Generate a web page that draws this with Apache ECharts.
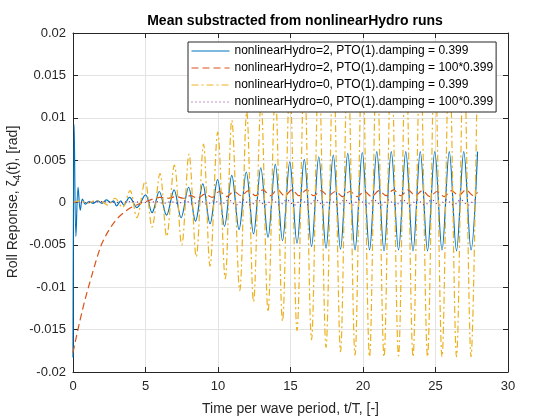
<!DOCTYPE html>
<html>
<head>
<meta charset="utf-8">
<script src="https://cdn.jsdelivr.net/npm/echarts/dist/echarts.min.js"></script>
<style>
  html, body { margin: 0; padding: 0; background: #fff; }
  #chart { width: 560px; height: 420px; }
</style>
</head>
<body>
<div id="chart"></div>
<script>
// ---- data ----
var xTicks = ['0', '5', '10', '15', '20', '25', '30'];
var yTicks = ['-0.02', '-0.015', '-0.01', '-0.005', '0', '0.005', '0.01', '0.015', '0.02'];

var seriesNames = [
  'nonlinearHydro=2, PTO(1).damping = 0.399',
  'nonlinearHydro=2, PTO(1).damping = 100*0.399',
  'nonlinearHydro=0, PTO(1).damping = 0.399',
  'nonlinearHydro=0, PTO(1).damping = 100*0.399'
];

// [t/T, roll]
var hydro2Low = [
  [0, -0.0183], [0.08, 0.0092], [0.2, -0.004], [0.35, 0.0018], [0.5, -0.0009], [0.65, 0.0004], [0.85, -0.0002],
  [1.1, 0.0001], [1.4, -0.0001], [1.7, 0.0002], [2.0, -0.0001], [2.3, 0.0003], [2.6, 0.0], [2.8, 0.0002],
  [3.0, -0.0004], [3.3, 0.0002], [3.5, -0.0003], [3.9, 0.0006], [4.4, -0.0006], [5.0, 0.0009],
  [5.45, -0.0012], [5.95, 0.0013], [6.45, -0.0015], [6.97, 0.0015], [7.45, -0.0018], [7.97, 0.0018],
  [8.45, -0.0022], [8.95, 0.0022], [9.45, -0.0025], [9.97, 0.0027], [10.45, -0.0028], [10.95, 0.0032],
  [11.45, -0.0032], [11.95, 0.0036], [12.45, -0.0037], [12.95, 0.0041], [13.45, -0.0041], [13.95, 0.0045],
  [14.45, -0.0045], [14.95, 0.0048], [15.45, -0.0048], [15.95, 0.0051], [16.45, -0.0052], [16.95, 0.0054],
  [17.45, -0.0054], [17.95, 0.0056], [18.45, -0.0055], [18.95, 0.0058], [19.45, -0.0056], [19.95, 0.0059],
  [20.45, -0.0056], [20.95, 0.006], [21.45, -0.0057], [21.95, 0.006], [22.45, -0.0056], [22.95, 0.006],
  [23.45, -0.0057], [23.95, 0.006], [24.45, -0.0057], [24.95, 0.006], [25.45, -0.0056], [25.95, 0.006],
  [26.45, -0.0057], [26.95, 0.006], [27.45, -0.0056], [27.9, 0.006]
];

var hydro2High = [
  [0, -0.0177], [0.25, -0.0157], [0.5, -0.0138], [0.75, -0.012], [1.0, -0.0104], [1.25, -0.0089],
  [1.5, -0.0074], [1.75, -0.006], [2.0, -0.0048], [2.5, -0.0032], [3.0, -0.002], [3.5, -0.0012],
  [4.0, -0.0006], [4.5, -0.0002], [5.0, 0.0001], [5.5, 0.0004], [6.0, 0.0006], [6.6, 0.0005],
  [7.1, 0.0007], [7.6, 0.0005], [8.1, 0.0008], [8.6, 0.0005], [9.1, 0.001], [9.6, 0.0006],
  [10.1, 0.0013], [10.6, 0.0007], [11.1, 0.0013], [11.6, 0.0008], [12.1, 0.0014], [12.6, 0.0008],
  [13.1, 0.0015], [13.6, 0.0008], [14.1, 0.0015], [14.6, 0.0008], [15.1, 0.0015], [15.6, 0.0008],
  [16.1, 0.0015], [16.6, 0.0008], [17.1, 0.0014], [17.6, 0.0008], [18.1, 0.0013], [18.6, 0.0007],
  [19.1, 0.0013], [19.6, 0.0007], [20.1, 0.0013], [20.6, 0.0007], [21.1, 0.0014], [21.6, 0.0008],
  [22.1, 0.0015], [22.6, 0.0008], [23.1, 0.0015], [23.6, 0.0008], [24.1, 0.0014], [24.6, 0.0007],
  [25.1, 0.0013], [25.6, 0.0007], [26.1, 0.0014], [26.6, 0.0008], [27.1, 0.0015], [27.6, 0.0008],
  [27.9, 0.0012]
];

var hydro0Low = [
  [0, 0], [0.5, 0.0002], [1.0, -0.0001], [1.5, 0.0002], [2.0, 0.0001], [2.4, -0.0003], [2.9, 0.0005],
  [3.4, -0.0006], [3.93, 0.0014], [4.4, -0.0018], [4.97, 0.0025], [5.45, -0.0029], [6.0, 0.0034],
  [6.46, -0.004], [6.99, 0.0044], [7.5, -0.005], [8.0, 0.0057], [8.5, -0.0064], [9.0, 0.0069],
  [9.45, -0.0075], [9.98, 0.0083], [10.5, -0.009], [10.95, 0.0097], [11.5, -0.0104], [11.98, 0.0107],
  [12.45, -0.0117], [12.97, 0.0118], [13.45, -0.0129], [13.95, 0.013], [14.45, -0.014], [14.95, 0.0141],
  [15.45, -0.0151], [15.95, 0.0152], [16.45, -0.0162], [16.95, 0.0162], [17.45, -0.0171], [17.95, 0.017],
  [18.45, -0.0176], [18.95, 0.0176], [19.45, -0.018], [19.95, 0.018], [20.45, -0.0182], [20.95, 0.018],
  [21.45, -0.0182], [21.95, 0.018], [22.45, -0.0181], [22.95, 0.018], [23.45, -0.0182], [23.95, 0.018],
  [24.45, -0.0182], [24.95, 0.018], [25.45, -0.0182], [25.95, 0.018], [26.45, -0.0182], [26.95, 0.018],
  [27.45, -0.0182], [27.9, 0.018]
];

var hydro0High = [
  [0, 0], [1, 0], [2, 0.0001], [3, 0], [4, 0.0001], [5, 0], [5.75, 0.0001], [6.25, -0.0001],
  [6.75, 0.0001], [7.25, -0.0001], [7.75, 0.0002], [8.25, -0.0002], [8.75, 0.0002], [9.25, -0.0002],
  [9.75, 0.0002], [10.25, -0.0002], [10.75, 0.0003], [11.25, -0.0003], [11.75, 0.0003], [12.25, -0.0003],
  [12.75, 0.0003], [13.25, -0.0003], [13.75, 0.0003], [14.25, -0.0003], [14.75, 0.0003], [15.25, -0.0003],
  [15.75, 0.0003], [16.25, -0.0003], [16.75, 0.0003], [17.25, -0.0003], [17.75, 0.0003], [18.25, -0.0003],
  [18.75, 0.0003], [19.25, -0.0003], [19.75, 0.0003], [20.25, -0.0003], [20.75, 0.0003], [21.25, -0.0003],
  [21.75, 0.0003], [22.25, -0.0003], [22.75, 0.0003], [23.25, -0.0003], [23.75, 0.0003], [24.25, -0.0003],
  [24.75, 0.0003], [25.25, -0.0003], [25.75, 0.0003], [26.25, -0.0003], [26.75, 0.0003], [27.25, -0.0003],
  [27.75, 0.0003], [27.9, 0.0001]
];

// ---- chart ----
var FONT = 'Liberation Sans, Arial, Helvetica, sans-serif';
var AX = '#262626';
var X_MIN = 0, X_MAX = 30, X_INT = 5;
var Y_MIN = -0.02, Y_MAX = 0.02, Y_INT = 0.005;

function xLab(v) { return xTicks[Math.round((v - X_MIN) / X_INT)]; }
function yLab(v) { return yTicks[Math.round((v - Y_MIN) / Y_INT)]; }

var chart = echarts.init(document.getElementById('chart'), null, { renderer: 'canvas' });

function baseX(pos, main) {
  return {
    type: 'value', position: pos, min: X_MIN, max: X_MAX, interval: X_INT,
    axisLine: { show: true, onZero: false, lineStyle: { color: AX, width: 1 } },
    axisTick: { show: true, inside: true, length: 5, lineStyle: { color: AX } },
    axisLabel: { show: main, color: AX, fontSize: 13, fontFamily: FONT, margin: 8, formatter: xLab },
    splitLine: { show: main, lineStyle: { color: '#e3e3e3', width: 1 } }
  };
}
function baseY(pos, main) {
  return {
    type: 'value', position: pos, min: Y_MIN, max: Y_MAX, interval: Y_INT,
    axisLine: { show: true, onZero: false, lineStyle: { color: AX, width: 1 } },
    axisTick: { show: true, inside: true, length: 5, lineStyle: { color: AX } },
    axisLabel: { show: main, color: AX, fontSize: 13, fontFamily: FONT, margin: 7, formatter: yLab },
    splitLine: { show: main, lineStyle: { color: '#e3e3e3', width: 1 } }
  };
}

var xMain = baseX('bottom', true);
xMain.name = 'Time per wave period, t/T, [-]';
xMain.nameLocation = 'middle';
xMain.nameGap = 30;
xMain.nameTextStyle = { color: AX, fontSize: 14, fontFamily: FONT };

var yMain = baseY('left', true);

function lineSeries(name, data, color, type) {
  return {
    name: name, type: 'line', data: data, xAxisIndex: 0, yAxisIndex: 0,
    showSymbol: false, symbol: 'none', smooth: 0.35, animation: false,
    lineStyle: { color: color, width: 1.2, type: type },
    itemStyle: { color: color }
  };
}

chart.setOption({
  animation: false,
  backgroundColor: '#ffffff',
  title: {
    text: 'Mean substracted from nonlinearHydro runs',
    left: 290, top: 9, textAlign: 'center',
    textStyle: { fontSize: 14, fontWeight: 'bold', fontFamily: FONT, color: '#000' }
  },
  grid: { left: 73, right: 52, top: 33, bottom: 48, containLabel: false, outerBoundsMode: 'none' },
  xAxis: [xMain, baseX('top', false)],
  yAxis: [yMain, baseY('right', false)],
  graphic: [{
    type: 'text', x: 13, y: 202, rotation: Math.PI / 2, silent: true,
    style: {
      text: '{a|Roll Reponse, ζ}{s|4}{a|(t), [rad]}',
      align: 'center', verticalAlign: 'middle',
      fill: AX, font: '14px ' + FONT,
      rich: {
        a: { fontSize: 14, fontFamily: FONT, fill: AX, lineHeight: 20, verticalAlign: 'middle' },
        s: { fontSize: 10, fontFamily: FONT, fill: AX, lineHeight: 20, verticalAlign: 'bottom' }
      }
    }
  }],
  legend: {
    orient: 'vertical', left: 188, top: 42,
    itemWidth: 38, itemHeight: 13, itemGap: 5,
    padding: [3, 3, 4, 3],
    backgroundColor: '#ffffff', borderColor: AX, borderWidth: 1,
    textStyle: { fontSize: 12, fontFamily: FONT, color: '#000' },
    itemStyle: { opacity: 0, borderWidth: 0 },
    lineStyle: { width: 1 },
    z: 10,
    data: seriesNames
  },
  series: [
    lineSeries(seriesNames[0], hydro2Low, '#0072BD', 'solid'),
    lineSeries(seriesNames[1], hydro2High, '#D95319', [7, 4]),
    lineSeries(seriesNames[2], hydro0Low, '#EDB120', [7, 3, 2, 3]),
    lineSeries(seriesNames[3], hydro0High, '#7E2F8E', [1, 3])
  ]
});
</script>
</body>
</html>
